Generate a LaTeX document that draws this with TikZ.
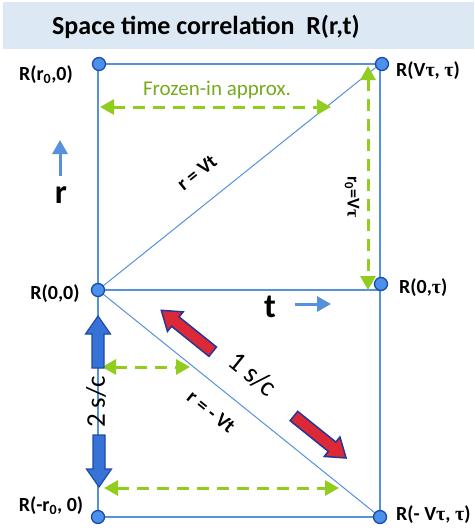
\documentclass[tikz,border=0pt]{standalone}
\usepackage{fontspec}
\setmainfont{Carlito}
\newfontfamily\grk{Liberation Serif}
\usetikzlibrary{arrows.meta,calc}
\definecolor{banner}{RGB}{220,232,243}
\definecolor{frame}{RGB}{85,145,220}
\definecolor{dotfill}{RGB}{75,145,235}
\definecolor{dotdraw}{RGB}{30,75,170}
\definecolor{grn}{RGB}{145,205,30}
\definecolor{grntext}{RGB}{120,170,30}
\definecolor{redfill}{RGB}{220,40,55}
\definecolor{arrdraw}{RGB}{35,55,150}
\definecolor{bluefill}{RGB}{55,115,215}
\newcommand{\fs}[1]{\fontsize{#1}{#1}\selectfont}
\newcommand{\tu}{{\grk τ}}
\tikzset{
  frameline/.style={draw=frame, line width=2pt},
  diagline/.style={draw=frame, line width=1pt},
  dot/.style={circle, fill=dotfill, draw=dotdraw, line width=1.3pt, minimum size=13pt, inner sep=0pt},
  cornerlabel/.style={font=\fs{20}\bfseries, inner sep=0pt},
  grnarrow/.style={draw=grn, line width=3pt, dash pattern=on 12pt off 8pt,
     {Triangle[length=14pt,width=15pt]}-{Triangle[length=14pt,width=15pt]}},
  thinblue/.style={draw=frame, line width=3pt, -{Triangle[length=14pt,width=15pt]}},
  fatred/.style={fill=redfill, draw=arrdraw, line width=1.5pt, line join=miter},
  fatblue/.style={fill=bluefill, draw=dotdraw, line width=1.2pt, line join=miter},
}
\newcommand{\fatarrow}[5]{% style, center, angle, length, shaft width
  \begin{scope}[shift={#2}, rotate=#3]
    \draw[#1] ({-#4/2},{-#5/2}) -- ({#4/2-18},{-#5/2}) -- ({#4/2-18},-12.5) -- ({#4/2},0)
      -- ({#4/2-18},12.5) -- ({#4/2-18},{#5/2}) -- ({-#4/2},{#5/2}) -- cycle;
  \end{scope}}
\begin{document}
\begin{tikzpicture}[x=1pt,y=-1pt]
\useasboundingbox (0,0) rectangle (474,530);
% banner
\fill[banner] (3,2) rectangle (474,49);
\node[font=\fs{26}\bfseries] (title) at (206,27) {Space time correlation\ \ R(r,t)};
% corners
\coordinate (TL) at (98,64);
\coordinate (TR) at (380,64);
\coordinate (ML) at (98,290);
\coordinate (MR) at (380,290);
\coordinate (BL) at (98,517);
\coordinate (BR) at (380,517);
\draw[frameline] (TL) -- (TR) -- (BR) -- (BL) -- cycle;
\draw[frameline] (ML) -- (MR);
\draw[diagline] (ML) -- (TR);
\draw[diagline] (ML) -- (BR);
% green dashed arrows
\coordinate (g1a) at (100,107); \coordinate (g1b) at (331,107);
\draw[grnarrow] (g1a) -- (g1b);
\coordinate (g2a) at (368,66); \coordinate (g2b) at (368,290);
\draw[grnarrow] (g2a) -- (g2b);
\coordinate (g3a) at (102,367); \coordinate (g3b) at (190,367);
\draw[grnarrow] (g3a) -- (g3b);
\coordinate (g4a) at (104,488); \coordinate (g4b) at (339,488);
\draw[grnarrow] (g4a) -- (g4b);
% fat arrows
\fatarrow{fatred}{(187,331)}{141.2}{66}{12}
\fatarrow{fatred}{(320,437)}{-38.8}{67}{12}
\fatarrow{fatblue}{(98,342)}{90}{52}{12}
\fatarrow{fatblue}{(99,461)}{-90}{52}{12}
% dots
\node[dot] (dTL) at (99,64) {};
\node[dot] (dTR) at (382,64) {};
\node[dot] (dML) at (98,290) {};
\node[dot] (dMR) at (381,284) {};
\node[dot] (dBL) at (98,517) {};
\node[dot] (dBR) at (380,517) {};
% labels
\node[cornerlabel] (lTL) at (46,75) {R(r\textsubscript{0},0)};
\node[cornerlabel, anchor=west] (lTR) at (396,71) {R(V\tu, \tu)};
\node[cornerlabel] (lML) at (55,294) {R(0,0)};
\node[cornerlabel, anchor=west] (lMR) at (399,288) {R(0,\tu)};
\node[cornerlabel] (lBL) at (51,506) {R(-r\textsubscript{0}, 0)};
\node[cornerlabel, anchor=west] (lBR) at (396,515) {R(- V\tu, \tu)};
\node[font=\fs{21}, text=grntext] (froz) at (217,90) {Frozen-in approx.};
\node[font=\fs{20}\bfseries, rotate=38.8] (rvt) at (197,173) {r = Vt};
\node[font=\fs{18}\bfseries, rotate=-90] (r0) at (352,197) {r\textsubscript{0}=V\tu};
\node[font=\fs{20}\bfseries, rotate=-38.8] (rmvt) at (211,412) {r = - Vt};
\node[font=\fs{28}, rotate=-38.8] (one) at (253,374) {1 s/c};
\node[font=\fs{27}, rotate=90] (two) at (96,402) {2 s/c};
% axis labels
\node[font=\fs{34}\bfseries] (rlab) at (61,195) {r};
\coordinate (ra) at (60,176); \coordinate (rb) at (60,140);
\draw[thinblue] (ra) -- (rb);
\node[font=\fs{34}\bfseries] (tlab) at (270,307) {t};
\coordinate (ta) at (295,304); \coordinate (tb) at (331,304);
\draw[thinblue] (ta) -- (tb);
\end{tikzpicture}
\end{document}
